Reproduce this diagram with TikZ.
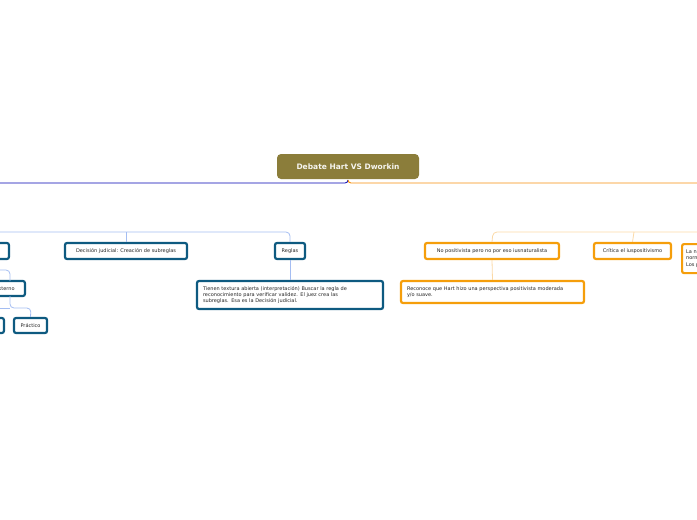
\documentclass[tikz,border=0pt]{standalone}
\usepackage{fontspec}
\setmainfont{DejaVu Sans}
\begin{document}
\begin{tikzpicture}[x=1pt,y=-1pt,
  bb/.style={draw=blueB,line width=2.2pt,rounded corners=2pt,fill=white,inner sep=0pt,font=\fontsize{5}{6.4}\selectfont,align=left,text=black!85},
  ob/.style={bb,draw=orB},
  lb/.style={draw=blueL,line width=0.8pt,rounded corners=4pt},
  lo/.style={draw=orL,line width=0.8pt,rounded corners=4pt}]
\definecolor{blueB}{HTML}{0E5A80}
\definecolor{orB}{HTML}{F59E0B}
\definecolor{blueL}{HTML}{A4BDF2}
\definecolor{orL}{HTML}{FBD9A6}
\definecolor{olive}{HTML}{8B7D3A}
\useasboundingbox (0,0) rectangle (697,520);
\clip (0,0) rectangle (697,520);
% main lines
\coordinate (L0) at (0,183);
\coordinate (R0) at (697,183);
\draw[draw=blue!70!black,line width=0.8pt] (L0) -- (345,183) to[out=0,in=-90] (348,180);
\draw[draw=orB!90!red,line width=0.9pt] (R0) -- (351,183) to[out=180,in=-90] (348,180);
\node[fill=olive,rounded corners=4pt,minimum width=142pt,minimum height=25pt,text=white!92!olive,font=\fontsize{7.5}{9}\bfseries\selectfont] (c) at (348,166.5) {Debate Hart VS Dworkin};
% left nodes
\node[bb,minimum width=40pt,minimum height=16pt,anchor=east,align=right] (int) at (10,251) {Interno\,};
\node[bb,minimum width=122pt,minimum height=16pt] (dec) at (126,251) {Decisión judicial: Creación de subreglas};
\node[bb,minimum width=30pt,minimum height=16pt] (reg) at (290,251) {Reglas};
\node[bb,minimum width=186pt,minimum height=28pt,text width=174pt] (tie) at (290,295) {Tienen textura abierta (interpretación) Buscar la regla de\\reconocimiento para verificar validez. El juez crea las\\subreglas. Esa es la Decisión judicial.};
\node[bb,minimum width=40pt,minimum height=15pt,anchor=east] (ext) at (26,288.5) {\,Externo\,};
\node[bb,minimum width=30pt,minimum height=15pt,anchor=east] (teo) at (5,325.5) {Teórico};
\node[bb,minimum width=33pt,minimum height=15pt] (pra) at (30.5,325.5) {Práctico};
% right nodes
\node[ob,minimum width=134pt,minimum height=16pt] (nop) at (492,251) {No positivista pero no por eso iusnaturalista};
\node[ob,minimum width=77pt,minimum height=16pt] (cri) at (632.5,251) {Crítica el iuspositivismo};
\node[ob,minimum width=60pt,minimum height=29pt,anchor=north west,text width=52pt] (lan) at (681,243) {La norma\\normas\\Los principios};
\node[ob,minimum width=183pt,minimum height=22pt,text width=171pt] (rec) at (492.5,292) {Reconoce que Hart hizo una perspectiva positivista moderada\\y/o suave.};
% connectors
\draw[lb] (L0) ++(0,49) coordinate (lb0) -- (290,232) -- (reg.north);
\draw[lb] (126,232) -- (dec.north);
\draw[lb] (reg.south) -- (tie.north);
\draw[lb] (int.south) -- (int.south |- 0,270) coordinate (a1);
\draw[lb] (0,270) -- (10,270) -- (10,281);
\draw[lb] (10,296) -- (10,308) -- (31,308) -- (pra.north);
\draw[lb] (0,308) -- (10,308);
\draw[lo] (nop.north) -- (493,232) -- (R0 |- 0,232);
\draw[lo] (634,232) -- (cri.north);
\draw[lo] (nop.south) -- (rec.north);
\end{tikzpicture}
\end{document}
